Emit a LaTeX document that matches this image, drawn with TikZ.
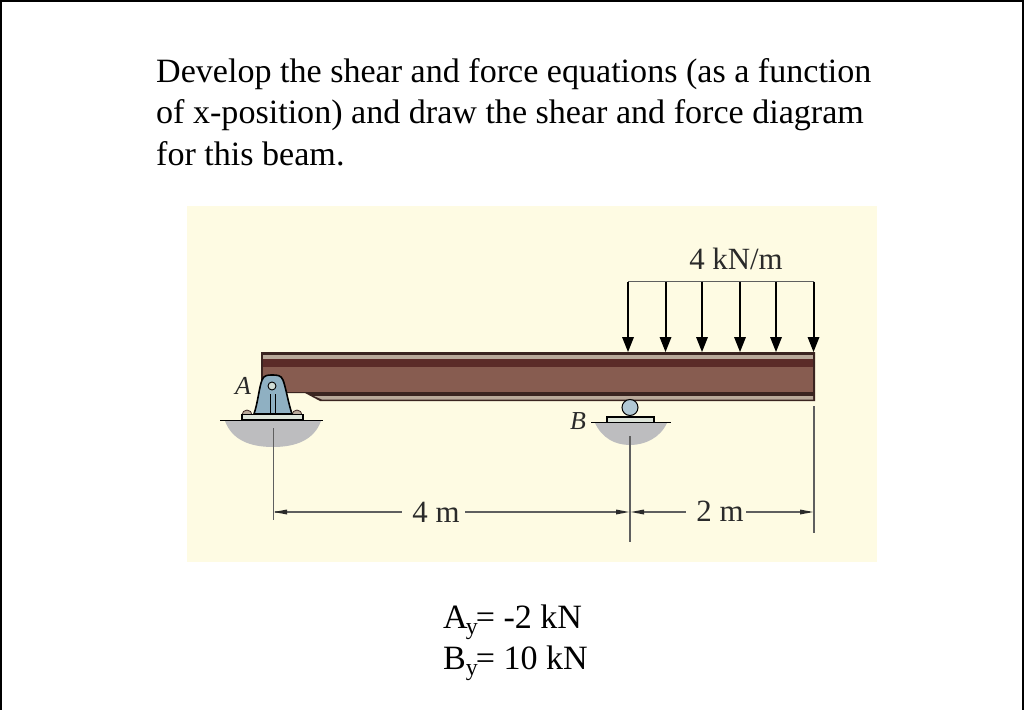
\documentclass[tikz,border=0pt]{standalone}
\usepackage{fontspec}
\setmainfont{Liberation Serif}
\definecolor{panelcol}{HTML}{FEFBE3}
\definecolor{webcol}{HTML}{875C50}
\definecolor{flangecol}{HTML}{5B2B28}
\definecolor{edgecol}{HTML}{3A2420}
\definecolor{lightcol}{HTML}{B9A99A}
\definecolor{steelcol}{HTML}{8FB0C2}
\definecolor{groundcol}{HTML}{BDBDBF}
\definecolor{inkcol}{HTML}{2A2A2A}
\tikzset{
  tasktext/.style={anchor=base west,inner sep=0pt,font=\fontsize{34.2}{38}\selectfont},
  dimtext/.style={inner sep=0pt,text=inkcol,font=\fontsize{31}{34}\selectfont},
  thinline/.style={draw=inkcol!75,line width=1.1},
  dimtip/.style={fill=inkcol}
}
\begin{document}
\begin{tikzpicture}[x=1bp,y=-1bp]
\useasboundingbox (0,0) rectangle (1024,710);
\fill [white] (0,0) rectangle (1024,710);
\draw [black,line width=2.5] (1,710) -- (1,1) -- (1023,1) -- (1023,710);
\fill [panelcol] (187,206) rectangle (877,562);
\node [tasktext] (line1) at (156,83) {Develop the shear and force equations (as a function};
\node [tasktext] (line2) at (156,124) {of x-position) and draw the shear and force diagram};
\node [tasktext] (line3) at (156,166) {for this beam.};
\fill [edgecol] (261,352) -- (815,352) -- (815,401) -- (320,401) -- (305,393) -- (261,393) -- cycle;
\fill [lightcol] (263,355) rectangle (813,358.5);
\fill [flangecol] (263,358.5) rectangle (813,367);
\fill [webcol] (263,367) rectangle (813,392);
\fill [lightcol] (322,396) -- (813,396) -- (813,399.5) -- (322,399.5) -- (314,396) -- cycle;
\fill [groundcol] (225,421) .. controls (232,440) and (250,447) .. (273,447) .. controls (296,447) and (314,440) .. (321,421) -- cycle;
\fill [groundcol] (595,423) .. controls (602,438) and (615,445) .. (630,445) .. controls (645,445) and (660,438) .. (667,423) -- cycle;
\draw [edgecol,fill=lightcol,line width=0.8] (242,415) arc (180:360:5);
\draw [edgecol,fill=lightcol,line width=0.8] (292,415) arc (180:360:5);
\draw [black,fill=steelcol,line width=1.6] (254,414) .. controls (258,402) and (259,388) .. (262,380) .. controls (264,375) and (268,375) .. (272,375) .. controls (277,375) and (281,375) .. (283,380) .. controls (286,388) and (288,402) .. (292,414) -- cycle;
\draw [black,fill=panelcol!60!steelcol,line width=0.9] (272,386) circle (4);
\draw [black,line width=1] (270,394) -- (270,414);
\draw [black,line width=1] (275,394) -- (275,414);
\draw [black,fill=panelcol!70!steelcol,line width=1.2] (242,414.5) rectangle (303,420);
\draw [black,line width=1.3] (220,420.5) -- (323,420.5);
\draw [black,fill=steelcol!70!white,line width=1] (630,407.5) circle (8);
\draw [black,fill=panelcol!70!steelcol,line width=1.2] (607,417) rectangle (654,422.5);
\draw [black,line width=1.3] (591,422.5) -- (671,422.5);
\node [inner sep=0pt,text=inkcol,font=\itshape\fontsize{26}{30}\selectfont] (labelA) at (243,386) {A};
\node [inner sep=0pt,text=inkcol,font=\itshape\fontsize{26}{30}\selectfont] (labelB) at (578,421) {B};
\draw [thinline] (628,281.5) -- (814,281.5);
\draw [black,line width=2] (628,281.5) -- (628,340);
\fill [black] (628,352) -- (622,337) -- (634,337);
\draw [black,line width=2] (665.5,281.5) -- (665.5,340);
\fill [black] (665.5,352) -- (659.5,337) -- (671.5,337);
\draw [black,line width=2] (702,281.5) -- (702,340);
\fill [black] (702,352) -- (696,337) -- (708,337);
\draw [black,line width=2] (740,281.5) -- (740,340);
\fill [black] (740,352) -- (734,337) -- (746,337);
\draw [black,line width=2] (776,281.5) -- (776,340);
\fill [black] (776,352) -- (770,337) -- (782,337);
\draw [black,line width=2] (813.5,281.5) -- (813.5,340);
\fill [black] (813.5,352) -- (807.5,337) -- (819.5,337);
\node [dimtext] (loadtext) at (736,259) {4 kN/m};
\draw [thinline] (273.5,428) -- (273.5,520);
\draw [thinline] (630,436) -- (630,542);
\draw [thinline] (814,406) -- (814,533);
\node [dimtext] (dimfour) at (436,512) {4 m};
\node [dimtext] (dimtwo) at (720,511) {2 m};
\draw [thinline] (275,512) -- (402,512);
\fill [dimtip] (274,512) -- (287,509.5) -- (287,514.5);
\draw [thinline] (465,512) -- (625,512);
\fill [dimtip] (629,512) -- (616,509.5) -- (616,514.5);
\draw [thinline] (635,512) -- (686,512);
\fill [dimtip] (631,512) -- (644,509.5) -- (644,514.5);
\draw [thinline] (746,512) -- (810,512);
\fill [dimtip] (813,512) -- (800,509.5) -- (800,514.5);
\node [tasktext] (reactA) at (443,628) {A\kern-2pt\raisebox{-7pt}{\fontsize{24}{26}\selectfont y}\kern-2pt= -2 kN};
\node [tasktext] (reactB) at (443,669) {B\raisebox{-7pt}{\fontsize{24}{26}\selectfont y}\kern-2pt= 10 kN};
\end{tikzpicture}
\end{document}
